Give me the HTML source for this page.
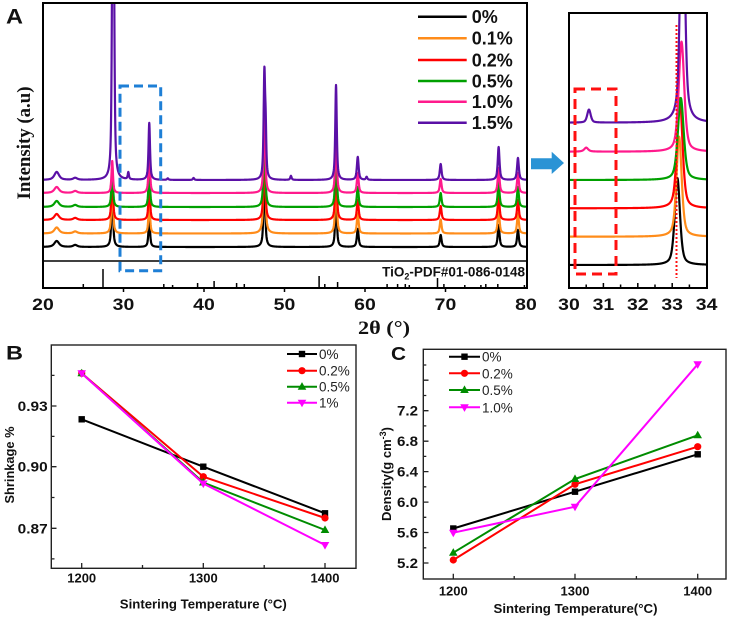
<!DOCTYPE html>
<html><head><meta charset="utf-8">
<style>
html,body{margin:0;padding:0;background:#fff;}
svg{display:block;}
text{font-family:"Liberation Sans",Arial,sans-serif;}
.sf{font-family:"Liberation Serif","Times New Roman",serif;}
</style></head><body>
<svg id="s" width="733" height="618" viewBox="0 0 733 618" xmlns="http://www.w3.org/2000/svg">
<defs>
<clipPath id="cm"><rect x="43" y="3" width="484" height="257"/></clipPath>
<clipPath id="ci"><rect x="569" y="13" width="138" height="275"/></clipPath>
</defs>
<rect width="733" height="618" fill="#fff"/>

<!-- ===== Panel A main ===== -->
<g id="main" clip-path="url(#cm)"></g>
<line x1="43" y1="261" x2="527" y2="261" stroke="#000" stroke-width="1.5"/>
<g id="sticks" stroke="#000" stroke-width="1.5"></g>
<rect x="43" y="3" width="484" height="285" fill="none" stroke="#000" stroke-width="2"/>
<rect x="120" y="86" width="40.7" height="184.7" fill="none" stroke="#1e7fd6" stroke-width="3" stroke-dasharray="9 5"/>
<text x="525" y="276.5" font-size="13.5" font-weight="bold" text-anchor="end" fill="#111">TiO<tspan font-size="9" dy="3">2</tspan><tspan dy="-3">-PDF#01-086-0148</tspan></text>
<g id="mainlab" font-size="17" font-weight="bold" text-anchor="middle" fill="#111"></g>
<text class="sf" x="384" y="334" font-size="19" font-weight="bold" text-anchor="middle" textLength="52" lengthAdjust="spacingAndGlyphs" fill="#111">2θ (°)</text>
<text class="sf" transform="translate(30,143) rotate(-90)" font-size="19" font-weight="bold" text-anchor="middle" textLength="113" lengthAdjust="spacingAndGlyphs" fill="#111">Intensity (a.u)</text>
<text x="6" y="23.5" font-size="21" font-weight="bold" textLength="17" lengthAdjust="spacingAndGlyphs" fill="#111">A</text>
<g id="legA" font-size="18" font-weight="bold" fill="#111"></g>

<!-- arrow -->
<polygon points="531,158.3 551.7,158.3 551.7,151.7 564,163 551.7,174 551.7,169.3 531,169.3" fill="#2a93d5"/>

<!-- ===== Panel A inset ===== -->
<g id="ins" clip-path="url(#ci)"></g>
<line x1="676.5" y1="25" x2="676.5" y2="278" stroke="#ff1010" stroke-width="2" stroke-dasharray="2 2"/>
<rect x="575" y="89" width="41" height="185" fill="none" stroke="#ff1010" stroke-width="3" stroke-dasharray="10 6"/>
<rect x="569" y="13" width="138" height="275" fill="none" stroke="#000" stroke-width="2"/>
<g id="instk" stroke="#000" stroke-width="1.5"></g>

<!-- ===== Panel B ===== -->
<text x="6" y="359.5" font-size="19" font-weight="bold" textLength="17" lengthAdjust="spacingAndGlyphs" fill="#111">B</text>
<g id="pb"></g>
<rect x="51.3" y="345" width="304.7" height="223.3" fill="none" stroke="#222" stroke-width="1.4"/>
<g font-size="14" font-weight="bold" text-anchor="end" fill="#111">
<text x="47.7" y="411" textLength="30" lengthAdjust="spacingAndGlyphs">0.93</text>
<text x="47.7" y="471.7" textLength="30" lengthAdjust="spacingAndGlyphs">0.90</text>
<text x="47.7" y="533.3" textLength="30" lengthAdjust="spacingAndGlyphs">0.87</text>
</g>
<g font-size="13" font-weight="bold" text-anchor="middle" fill="#111">
<text x="81.7" y="582.7">1200</text>
<text x="203.3" y="582.7">1300</text>
<text x="325" y="582.7">1400</text>
<text x="203.3" y="608.7" textLength="167" lengthAdjust="spacingAndGlyphs">Sintering Temperature (°C)</text>
</g>
<text transform="translate(14,465) rotate(-90)" font-size="13" font-weight="bold" text-anchor="middle" textLength="77" lengthAdjust="spacingAndGlyphs" fill="#111">Shrinkage %</text>

<!-- ===== Panel C ===== -->
<text x="391" y="360" font-size="18" font-weight="bold" textLength="15" lengthAdjust="spacingAndGlyphs" fill="#111">C</text>
<g id="pc"></g>
<rect x="423.3" y="349.3" width="302.7" height="229.7" fill="none" stroke="#222" stroke-width="1.4"/>
<g font-size="14" font-weight="bold" text-anchor="end" fill="#111" id="cyl"></g>
<g font-size="13" font-weight="bold" text-anchor="middle" fill="#111">
<text x="453.3" y="595.4">1200</text>
<text x="575" y="595.4">1300</text>
<text x="697.7" y="595.4">1400</text>
<text x="575.5" y="613" textLength="164" lengthAdjust="spacingAndGlyphs">Sintering Temperature(°C)</text>
</g>
<text transform="translate(391,474) rotate(-90)" font-size="13" font-weight="bold" text-anchor="middle" fill="#111">Density(g cm<tspan font-size="9" dy="-5">-3</tspan><tspan dy="5">)</tspan></text>
</svg>

<script>
(function(){
var NS='http://www.w3.org/2000/svg';
function el(tag,attrs,parent){var e=document.createElementNS(NS,tag);for(var k in attrs)e.setAttribute(k,attrs[k]);parent.appendChild(e);return e;}
function $(id){return document.getElementById(id);}
function pv(t,p,h,w,eta){var d=(t-p)/w;var L=1/(1+d*d);var G=Math.exp(-0.693*d*d);var e=(eta===undefined)?0.75:eta;return h*(e*L+(1-e)*G);}
function curve(x0,x1,step,X,base,peaks){var s='';for(var t=x0;t<=x1+1e-9;t+=step){var y=base;for(var i=0;i<peaks.length;i++){var p=peaks[i];y-=pv(t,p[0],p[1],p[2],p[3]);}s+=(s?'L':'M')+X(t).toFixed(2)+' '+y.toFixed(2);}return s;}

var cols=['#000000','#ff8c1a','#ff0000','#00a000','#ff1a8c','#5a10a6'];
var names=['0%','0.1%','0.2%','0.5%','1.0%','1.5%'];

/* main panel */
var XM=function(t){return 43+(t-20)*8.05;};
var bases=[247,233.5,220,207,193,180];
var pos=[28.6,33.2,47.5,56.4,59.1,69.4,76.6,79.0];
var H=[
 [70,30,90,60,18,12,22,17],
 [62,35,136,70,20,14,25,20],
 [52,40,100,70,20,14,25,20],
 [42,40,100,70,20,14,25,20],
 [32,45,100,70,20,14,25,20],
 [260,57,105,95,23,16,33,22]];
var g=$('main');
for(var c=0;c<6;c++){
 var pk=[[21.7,c==5?8:6,0.35],[24.0,2,0.3]];
 for(var i=0;i<pos.length;i++){pk.push([pos[i],H[c][i],i<4?0.11:0.13]);}
 if(c==5){pk[2]=[28.64,260,0.1];pk.push([28.8,190,0.1]);pk.push([47.66,40,0.09]);pk.push([30.6,7,0.09]);pk.push([50.8,4,0.1]);pk.push([60.2,3,0.1]);pk.push([38.7,2,0.1]);pk.push([35.5,1.5,0.1]);}
 el('path',{d:curve(20,80,0.02,XM,bases[c],pk),fill:'none',stroke:cols[c],'stroke-width':2.2,'stroke-linejoin':'round'},g);
}
/* sticks + ticks main */
var st=[[27.45,19],[36.1,3],[39.2,5],[41.25,7],[44.05,5],[54.3,12],[56.6,6],[62.75,4],[64.05,4],[65.5,3],[69.0,10],[69.8,4],[72.4,3],[74.4,3],[76.5,4],[79.8,3]];
var sg=$('sticks'),d='';
for(var i=0;i<st.length;i++){var x=XM(st[i][0]).toFixed(1);d+='M'+x+' 288V'+(288-st[i][1]);}
for(var t=25;t<80;t+=10){var x=XM(t).toFixed(1);d+='M'+x+' 288V284';}
for(var t=30;t<80;t+=10){var x=XM(t).toFixed(1);d+='M'+x+' 288V292';}
el('path',{d:d},sg);
var ml=$('mainlab');
for(var t=20;t<=80;t+=10){var e=el('text',{x:XM(t),y:310,textLength:21.6,lengthAdjust:'spacingAndGlyphs'},ml);e.textContent=String(t);}
/* legend A */
var lg=$('legA');var ly=[16.7,38.3,60,81,101.7,122.7];
for(var c=0;c<6;c++){el('line',{x1:418,y1:ly[c],x2:466.7,y2:ly[c],stroke:cols[c],'stroke-width':2.5},lg);var e=el('text',{x:471.7,y:ly[c]+6.4},lg);e.textContent=names[c];}

/* inset */
var XI=function(t){return 569+(t-30)*34.4;};
var ib=[265,236.7,208.3,180,151.7,122.7];
var ipk=[
 [[33.15,87,0.09,0.5]],
 [[33.2,100,0.09,0.5]],
 [[33.22,110,0.095,0.5]],
 [[33.25,82,0.1,0.5]],
 [[33.27,110,0.095,0.5],[30.5,4,0.07]],
 [[33.3,300,0.07,0.6],[30.58,13,0.06,0.5]]];
var gi=$('ins');
for(var c=0;c<6;c++){el('path',{d:curve(30,34,0.005,XI,ib[c],ipk[c]),fill:'none',stroke:cols[c],'stroke-width':2.2,'stroke-linejoin':'round'},gi);}
var it=$('instk'),d2='';
for(var t=30.5;t<34;t+=0.5){var x=XI(t).toFixed(1);d2+='M'+x+' 288V'+(t%1==0?283:284.5);}
el('path',{d:d2},it);
for(var t=30;t<=34;t++){var e=el('text',{x:XI(t),y:310,textLength:21.6,lengthAdjust:'spacingAndGlyphs'},ml);e.textContent=String(t);}

/* markers */
function marker(type,x,y,c,g){
 if(type=='s') el('rect',{x:x-3.2,y:y-3.2,width:6.4,height:6.4,fill:c},g);
 else if(type=='c') el('circle',{cx:x,cy:y,r:3.6,fill:c},g);
 else if(type=='u') el('polygon',{points:x+','+(y-4.6)+' '+(x-4.3)+','+(y+3)+' '+(x+4.3)+','+(y+3),fill:c},g);
 else el('polygon',{points:x+','+(y+4.6)+' '+(x-4.3)+','+(y-3)+' '+(x+4.3)+','+(y-3),fill:c},g);
}
function series(g,S){
 for(var k=0;k<S.length;k++){var p=S[k][2],dd='';
  for(var i=0;i<p.length;i++)dd+=(i?'L':'M')+p[i][0]+' '+p[i][1];
  el('path',{d:dd,fill:'none',stroke:S[k][0],'stroke-width':2},g);
  for(var i=0;i<p.length;i++)marker(S[k][1],p[i][0],p[i][1],S[k][0],g);}
}
function legend(g,S,ys,x1,x2,labels){
 for(var k=0;k<S.length;k++){el('line',{x1:x1,y1:ys[k],x2:x2,y2:ys[k],stroke:S[k][0],'stroke-width':2},g);
  marker(S[k][1],(x1+x2)/2,ys[k],S[k][0],g);
  var e=el('text',{x:x2+2,y:ys[k]+5,'font-size':13.5,fill:'#222'},g);e.textContent=labels[k];}
}
function ticks(g,d){el('path',{d:d,stroke:'#222','stroke-width':1.3,fill:'none'},g);}

/* Panel B */
var pb=$('pb');
var SB=[['#000000','s',[[81.7,419.3],[203.3,466.7],[325,513.3]]],
 ['#ff0000','c',[[81.7,373.3],[203.3,476.7],[325,518]]],
 ['#008c00','u',[[81.7,373.3],[203.3,482.5],[325,530]]],
 ['#ff00ff','d',[[81.7,373.3],[203.3,483.5],[325,545]]]];
var tb='';
[81.7,203.3,325].forEach(function(x){tb+='M'+x+' 568.3V563';});
[142.5,264.2].forEach(function(x){tb+='M'+x+' 568.3V565';});
[406,466.7,528.3].forEach(function(y){tb+='M51.3 '+y+'H56.5';});
[375.4,436.4,497.5,558.9].forEach(function(y){tb+='M51.3 '+y+'H54.5';});
ticks(pb,tb);
series(pb,SB);
legend(pb,SB,[354,370.7,386.7,402.7],287,317,['0%','0.2%','0.5%','1%']);

/* Panel C */
var pc=$('pc');
var SC=[['#000000','s',[[453.3,528.5],[575,491.7],[697.7,454.3]]],
 ['#ff0000','c',[[453.3,560],[575,484.3],[697.7,446.7]]],
 ['#008c00','u',[[453.3,552.7],[575,479],[697.7,435.3]]],
 ['#ff00ff','d',[[453.3,532.7],[575,506.7],[697.7,364.3]]]];
var tc='';
[453.3,575,697.7].forEach(function(x){tc+='M'+x+' 579V573.7';});
[514.2,636.4].forEach(function(x){tc+='M'+x+' 579V576';});
var YC=function(v){return 563-(v-5.2)*76.15;};
for(var v=5.2;v<7.85;v+=0.2){var y=YC(v).toFixed(1);var maj=(Math.round(v*10)%4==0);tc+='M423.3 '+y+'H'+(maj?428.5:426.3);}
ticks(pc,tc);
var cyl=$('cyl');
['5.2','5.6','6.0','6.4','6.8','7.2'].forEach(function(s){var e=el('text',{x:418,y:YC(parseFloat(s))+5,textLength:21,lengthAdjust:'spacingAndGlyphs'},cyl);e.textContent=s;});
series(pc,SC);
legend(pc,SC,[356.7,373.3,390,407.3],449,480,['0%','0.2%','0.5%','1.0%']);
})();
</script>
</body></html>
